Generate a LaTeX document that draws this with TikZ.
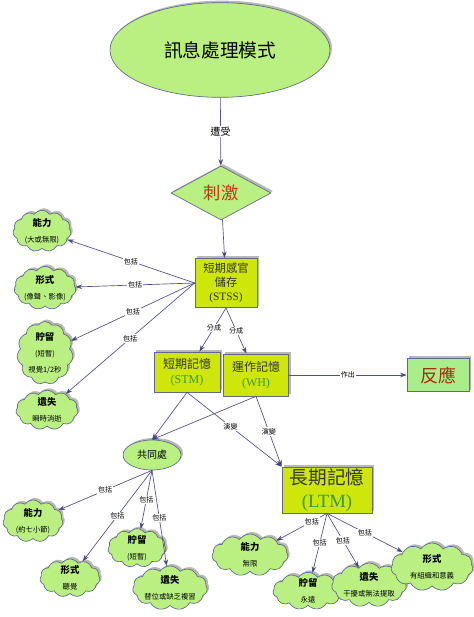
\documentclass[tikz,border=0pt]{standalone}
\usepackage{fontspec}
\setmainfont{Liberation Serif}
\newfontfamily\cjk{Noto Sans CJK TC}
\usetikzlibrary{shapes.geometric,shapes.symbols,arrows.meta,shadows}

\definecolor{cloudfill}{RGB}{186,240,130}
\definecolor{boxfill}{RGB}{206,230,10}
\definecolor{palefill}{RGB}{170,238,140}
\definecolor{rimc}{RGB}{95,105,140}
\definecolor{wirec}{RGB}{80,80,130}
\definecolor{tipc}{RGB}{20,20,110}
\definecolor{brick}{RGB}{190,55,20}
\definecolor{moss}{RGB}{60,150,60}

\newcommand\fsz[1]{\fontsize{#1}{\the\dimexpr#1pt*5/4\relax}\selectfont}
\newcommand\cloudtxt[2]{\fsz{7}\bfseries #1\\\fsz{5.5}\mdseries #2}

\tikzset{every picture/.style={line width=0.5pt},
  dropsh/.style={drop shadow={shadow xshift=1.5pt,shadow yshift=1.5pt,fill=gray!70,opacity=0.8}},
  memobox/.style={draw=rimc,fill=boxfill,align=center,inner sep=1pt,dropsh,text=black!80},
  puff/.style={cloud,cloud puffs=11,cloud puff arc=110,cloud ignores aspect,draw=rimc,fill=cloudfill,align=center,inner sep=0pt,dropsh,font=\cjk},
  link/.style={draw=wirec,-{Stealth[length=5pt,width=3.5pt,fill=tipc]}},
  plain/.style={draw=wirec},
  lbl/.style={fill=white,inner sep=0.6pt,font=\cjk\fsz{5.3}}}

\begin{document}
\begin{tikzpicture}[x=0.75pt,y=0.75pt,yscale=-1,xscale=1]
\useasboundingbox (0,0) rectangle (474,617);

%Ellipse: title
\node[ellipse,draw=rimc,fill=cloudfill,dropsh,minimum width=165pt,minimum height=71pt,font=\cjk\fsz{14}] (title) at (220,50) {訊息處理模式};
%Diamond: stimulus
\node[diamond,draw=rimc,fill=cloudfill,dropsh,minimum width=75pt,minimum height=40.5pt,inner sep=0pt,font=\cjk\fsz{13},text=brick] (stim) at (221,193) {刺激};

%Boxes
\node[memobox,minimum width=46.5pt,minimum height=37pt,font=\cjk\fsz{8.5}] (stss) at (226,283) {短期感官\\儲存\\\rmfamily (STSS)};
\node[memobox,minimum width=49.5pt,minimum height=30pt,font=\cjk\fsz{9}] (stm) at (187,372) {短期記憶\\\rmfamily\color{moss}(STM)};
\node[memobox,minimum width=49pt,minimum height=31.5pt,font=\cjk\fsz{9}] (wh) at (256,375) {運作記憶\\\rmfamily\color{moss}(WH)};
\node[memobox,fill=palefill,minimum width=46.5pt,minimum height=25pt,font=\cjk\fsz{13.5},text=brick!85!black] (resp) at (438,375) {反應};
\node[memobox,minimum width=67.5pt,minimum height=34.5pt,font=\cjk\fsz{14}] (ltm) at (327,490) {長期記憶\\\rmfamily\color{moss}(LTM)};
\node[ellipse,draw=rimc,fill=cloudfill,dropsh,minimum width=43.5pt,minimum height=22.5pt,inner sep=0pt,font=\cjk\fsz{7.5}] (common) at (152,455) {共同處};

%Clouds: STSS
\node[puff,minimum width=43.5pt,minimum height=30pt] (sA) at (42,231) {\cloudtxt{能力}{(大或無限)}};
\node[puff,minimum width=42pt,minimum height=28.5pt] (sB) at (45,288) {\cloudtxt{形式}{(像聲、影像)}};
\node[puff,minimum width=42pt,minimum height=34.5pt] (sC) at (45,353) {\cloudtxt{貯留}{(短暫)\\\fsz{5.5}視覺1/2秒}};
\node[puff,minimum width=46.5pt,minimum height=25.5pt] (sD) at (47,410) {\cloudtxt{遺失}{瞬時消逝}};

%Clouds: common
\node[puff,minimum width=45pt,minimum height=31.5pt] (cA) at (33,521) {\cloudtxt{能力}{(約七小節)}};
\node[puff,minimum width=45pt,minimum height=28.5pt] (cB) at (70,578) {\cloudtxt{形式}{聽覺}};
\node[puff,minimum width=43.5pt,minimum height=25.5pt] (cC) at (137,548) {\cloudtxt{貯留}{(短暫)}};
\node[puff,minimum width=48pt,minimum height=30pt] (cD) at (170,588) {\cloudtxt{遺失}{替位或缺乏複習}};

%Clouds: LTM
\node[puff,minimum width=57pt,minimum height=31.5pt] (lA) at (250,555) {\cloudtxt{能力}{無限}};
\node[puff,minimum width=52.5pt,minimum height=27pt] (lB) at (308,591) {\cloudtxt{貯留}{永遠}};
\node[puff,minimum width=51pt,minimum height=31.5pt] (lC) at (369,585) {\cloudtxt{遺失}{干擾或無法提取}};
\node[puff,minimum width=61.5pt,minimum height=36pt] (lD) at (432,567) {\cloudtxt{形式}{有組織和意義}};

%Connectors
\draw[link] (title) -- node[lbl,font=\cjk\fsz{7.5}] {遭受} (stim);
\draw[link] (stim) -- (stss);
\foreach \c in {sA,sB,sC,sD}
  \draw[link] (stss.west) -- node[lbl] {包括} (\c);
\draw[link] (stss.south) -- node[lbl,pos=0.45] {分成} (stm);
\draw[link] (stss.south) -- node[lbl] {分成} (wh);
\draw[link] (wh) -- node[lbl] {作出} (resp);
\draw[link] (stm.south) -- (common.north);
\draw[link] (wh.south) -- (common.north);
\draw[link] (stm.south) -- node[lbl,pos=0.46] {演變} (ltm.north west);
\draw[link] (wh.south) -- node[lbl] {演變} (ltm.north west);
\foreach \c in {cA,cB,cC,cD}
  \draw[link] (common.south) -- node[lbl] {包括} (\c);
\draw[link] (ltm.south) -- node[lbl,pos=0.3] {包括} (lA);
\foreach \c in {lB,lC,lD}
  \draw[link] (ltm.south) -- node[lbl] {包括} (\c);

\end{tikzpicture}
\end{document}
